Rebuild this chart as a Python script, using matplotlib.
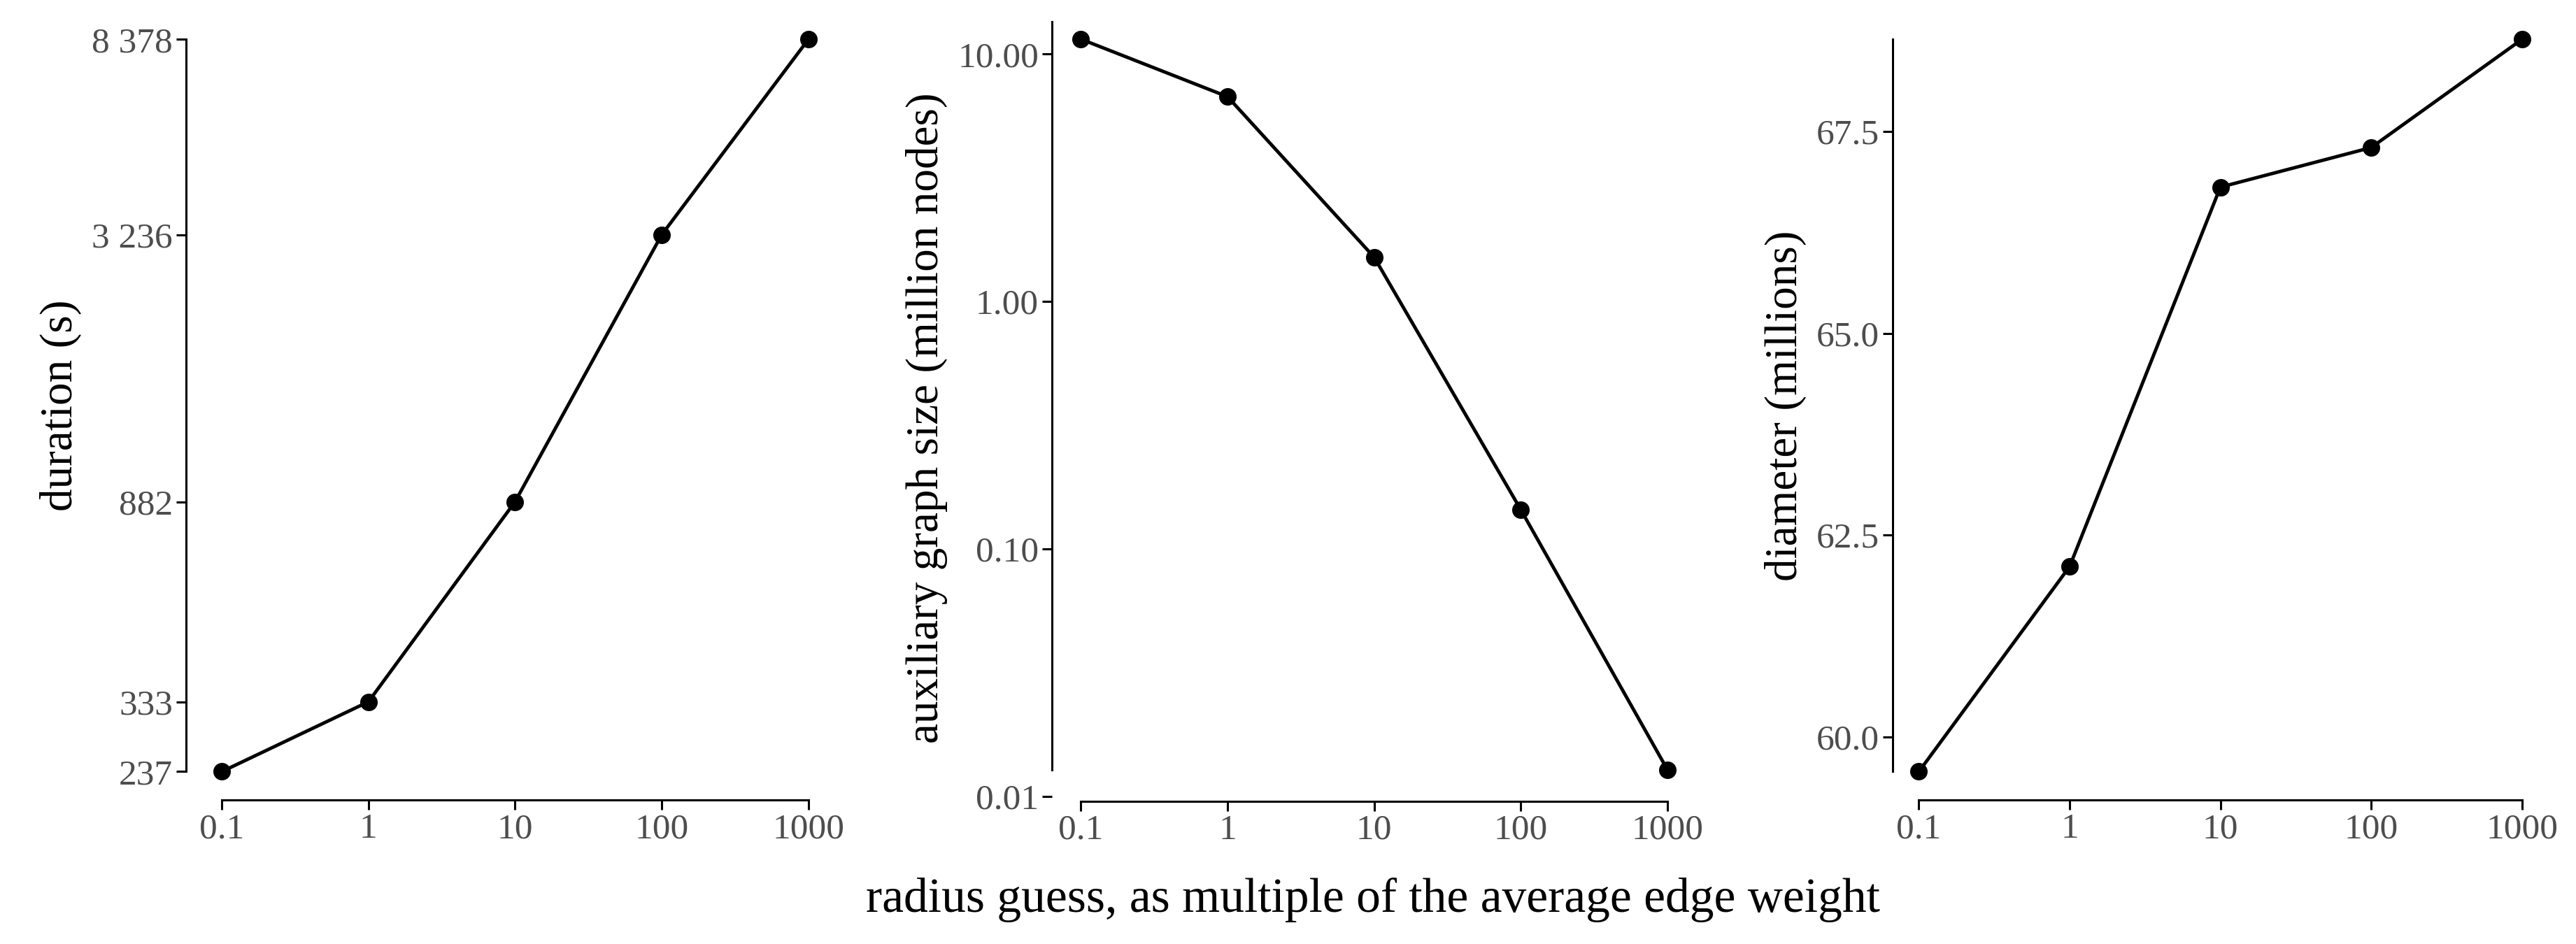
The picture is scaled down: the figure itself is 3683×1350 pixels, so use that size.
import matplotlib
matplotlib.use("Agg")
import matplotlib.pyplot as plt
from matplotlib.ticker import FixedLocator, FixedFormatter, NullLocator

plt.rcParams['font.family'] = ['Liberation Serif', 'DejaVu Serif']

x = [0.1, 1, 10, 100, 1000]
x_labels = ["0.1", "1", "10", "100", "1000"]
duration = [237, 333, 882, 3236, 8378]
duration_ticks = [237, 333, 882, 3236, 8378]
duration_labels = ["237", "333", "882", "3 236", "8 378"]
aux_size = [11.5, 6.73, 1.51, 0.144, 0.0128]
aux_ticks = [0.01, 0.1, 1, 10]
aux_labels = ["0.01", "0.10", "1.00", "10.00"]
diameter = [59.57, 62.11, 66.81, 67.30, 68.64]
diam_ticks = [60.0, 62.5, 65.0, 67.5]
diam_labels = ["60.0", "62.5", "65.0", "67.5"]

fig = plt.figure(figsize=(36.83, 13.5), dpi=100)
tick_color = '#4d4d4d'

def style(ax, ylog, yticks, ylabels, ylim, ybounds, loff, boff, ylabel, labelpad):
    ax.set_xscale('log')
    if ylog:
        ax.set_yscale('log')
    ax.set_xlim(0.1, 1000)
    ax.set_ylim(*ylim)
    ax.xaxis.set_major_locator(FixedLocator(x))
    ax.xaxis.set_major_formatter(FixedFormatter(x_labels))
    ax.xaxis.set_minor_locator(NullLocator())
    ax.yaxis.set_major_locator(FixedLocator(yticks))
    ax.yaxis.set_major_formatter(FixedFormatter(ylabels))
    ax.yaxis.set_minor_locator(NullLocator())
    for s in ['top', 'right']:
        ax.spines[s].set_visible(False)
    ax.spines['left'].set_position(('outward', loff))
    ax.spines['bottom'].set_position(('outward', boff))
    ax.spines['left'].set_bounds(*ybounds)
    ax.spines['bottom'].set_bounds(0.1, 1000)
    for s in ['left', 'bottom']:
        ax.spines[s].set_linewidth(2.2)
    ax.tick_params(width=2.2, length=10, labelsize=37, colors='black', labelcolor=tick_color)
    ax.set_ylabel(ylabel, fontsize=47, labelpad=labelpad)
    ax.patch.set_visible(False)

b1, t1 = 1 - 470/575, 1 - 24/575
ax1 = fig.add_axes([0.0861, b1, 0.3138-0.0861, t1-b1])
ax1.plot(x, duration, color='black', lw=3.5, marker='o', ms=17, clip_on=False)
style(ax1, True, duration_ticks, duration_labels, (237, 8378), (237, 8378), 37, 29, "duration (s)", 10)

b2 = 1 - 485/575
ax2 = fig.add_axes([0.4196, b2, 0.6473-0.4196, t1-b2])
ax2.plot(x, aux_size, color='black', lw=3.5, marker='o', ms=17, clip_on=False)
style(ax2, True, aux_ticks, aux_labels, (0.01, 11.47), (0.0128, 13.5), 30, 5, "auxiliary graph size (million nodes)", 10)

ax3 = fig.add_axes([0.7449, b1, 0.9790-0.7449, t1-b1])
ax3.plot(x, diameter, color='black', lw=3.5, marker='o', ms=17, clip_on=False)
style(ax3, False, diam_ticks, diam_labels, (59.57, 68.64), (59.57, 68.64), 27, 29, "diameter (millions)", 10)

fig.text(0.533, 0.047, "radius guess, as multiple of the average edge weight", ha='center', va='center', fontsize=50)

fig.savefig("out.png", dpi=100, facecolor='white')
